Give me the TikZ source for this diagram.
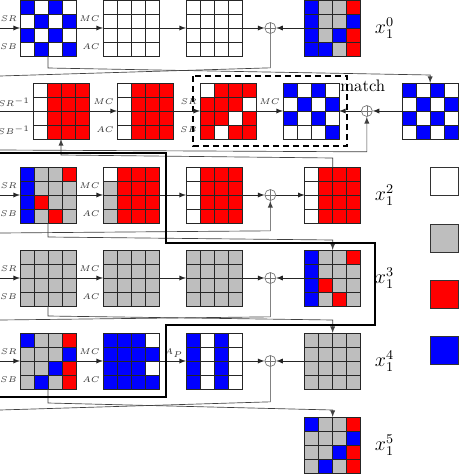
\documentclass[tikz,border=0pt]{standalone}
\usepackage{amsmath}
\usetikzlibrary{arrows,calc,positioning}

\definecolor{cg}{RGB}{190,190,190}
\colorlet{cw}{white}
\colorlet{cr}{red}
\colorlet{cb}{blue}

\tikzset{
  statebox/.style={minimum size=33.6pt, inner sep=0pt, outer sep=0pt},
  cell/.style={draw=black!85, line width=0.45pt},
  xorop/.style={circle, draw=black!55, minimum size=6.6pt, inner sep=0pt,
    path picture={\draw[black!55] (path picture bounding box.north) -- (path picture bounding box.south)
      (path picture bounding box.west) -- (path picture bounding box.east);}},
  flow/.style={->, draw=black!85, line width=0.4pt},
  keyline/.style={draw=black!75, line width=0.4pt},
  chunkline/.style={draw=black, line width=1.2pt},
  matchbox/.style={draw=black, line width=0.9pt, dash pattern=on 3.5pt off 2.5pt},
  lbl/.style={font=\tiny, text=black!80, inner sep=0.5pt},
  xlbl/.style={font=\large},
  legendbox/.style={draw=black!80, line width=0.6pt, minimum size=16.8pt, inner sep=0pt}
}

% 4x4 state: name, placement, 16 cell colours (row by row)
\newcommand{\stategrid}[3]{%
  \node[statebox, #2] (#1) {};
  \foreach \col [count=\i from 0] in {#3} {
    \pgfmathtruncatemacro{\rowi}{\i/4}
    \pgfmathtruncatemacro{\coli}{mod(\i,4)}
    \draw[cell, fill=\col] (#1.north west) ++(\coli*14,\rowi*14) rectangle ++(14,14);
  }
}
% operation names left of a state
\newcommand{\oplbl}[3]{%
  \node[lbl, anchor=east] (#1-up) at ($(#1.north west)+(-2,19)$) {$#2$};
  \node[lbl, anchor=east] (#1-dn) at ($(#1.north west)+(-2,47)$) {$#3$};
}

\begin{document}
\begin{tikzpicture}[x=0.6pt, y=-0.6pt, node distance=16.2pt, >=latex]
\useasboundingbox (0,0) rectangle (474,474);
\coordinate (edge) at (0,0);

% Round 1
\stategrid{A1}{at={(20,0)}, anchor=north west}{cb,cw,cb,cw, cw,cb,cw,cb, cb,cw,cb,cw, cw,cb,cw,cb}
\stategrid{B1}{right=of A1}{cw,cw,cw,cw, cw,cw,cw,cw, cw,cw,cw,cw, cw,cw,cw,cw}
\stategrid{C1}{right=of B1}{cw,cw,cw,cw, cw,cw,cw,cw, cw,cw,cw,cw, cw,cw,cw,cw}
\node[xorop, right=13.5pt of C1] (o1) {};
\stategrid{X0}{right=17.1pt of o1}{cb,cg,cg,cr, cb,cg,cg,cb, cb,cg,cb,cr, cb,cb,cg,cr}
\node[xlbl, right=5pt of X0] (X0-lbl) {$x_1^0$};
\oplbl{A1}{SR}{SB}
\oplbl{B1}{MC}{AC}

% Round 2 (match)
\stategrid{G21}{at={(33,83)}, anchor=north west}{cw,cr,cr,cr, cw,cr,cr,cr, cw,cr,cr,cr, cw,cr,cr,cr}
\stategrid{G22}{right=16.8pt of G21}{cw,cr,cr,cr, cw,cr,cr,cr, cw,cr,cr,cr, cw,cr,cr,cr}
\stategrid{G23}{right=of G22}{cw,cr,cr,cr, cr,cr,cr,cw, cr,cr,cw,cr, cr,cw,cr,cr}
\stategrid{G24}{right=of G23}{cb,cw,cb,cw, cw,cb,cw,cb, cb,cw,cb,cw, cw,cw,cw,cb}
\node[xorop, right=13.2pt of G24] (o2) {};
\stategrid{R2}{right=17.7pt of o2}{cb,cw,cb,cw, cw,cb,cw,cb, cb,cw,cb,cw, cw,cb,cw,cb}
\oplbl{G21}{SR^{-1}}{SB^{-1}}
\oplbl{G22}{MC}{AC}
\oplbl{G23}{SR}{SB}
\node[lbl, anchor=east] (G24-up) at ($(G24.north west)+(-2,19)$) {$MC$};
\draw[matchbox] (193,76) rectangle (347,146);
\node[anchor=west, inner sep=0pt] (match) at (340,86) {match};

% Round 3
\stategrid{A3}{at={(20,167)}, anchor=north west}{cb,cg,cg,cr, cb,cg,cg,cg, cb,cr,cg,cg, cb,cg,cr,cg}
\stategrid{B3}{right=of A3}{cw,cr,cr,cr, cg,cr,cr,cr, cg,cr,cr,cr, cg,cr,cr,cr}
\stategrid{C3}{right=of B3}{cw,cr,cr,cr, cw,cr,cr,cr, cw,cr,cr,cr, cw,cr,cr,cr}
\node[xorop, right=13.5pt of C3] (o3) {};
\stategrid{X2}{right=17.1pt of o3}{cw,cr,cr,cr, cw,cr,cr,cr, cw,cr,cr,cr, cw,cr,cr,cr}
\node[xlbl, right=5pt of X2] (X2-lbl) {$x_1^2$};
\oplbl{A3}{SR}{SB}
\oplbl{B3}{MC}{AC}

% Round 4
\stategrid{A4}{at={(20,250)}, anchor=north west}{cg,cg,cg,cg, cg,cg,cg,cg, cg,cg,cg,cg, cg,cg,cg,cg}
\stategrid{B4}{right=of A4}{cg,cg,cg,cg, cg,cg,cg,cg, cg,cg,cg,cg, cg,cg,cg,cg}
\stategrid{C4}{right=of B4}{cg,cg,cg,cg, cg,cg,cg,cg, cg,cg,cg,cg, cg,cg,cg,cg}
\node[xorop, right=13.5pt of C4] (o4) {};
\stategrid{X3}{right=17.1pt of o4}{cb,cg,cg,cr, cb,cg,cg,cg, cb,cr,cg,cg, cb,cg,cr,cg}
\node[xlbl, right=5pt of X3] (X3-lbl) {$x_1^3$};
\oplbl{A4}{SR}{SB}
\oplbl{B4}{MC}{AC}

% Round 5
\stategrid{A5}{at={(20,333)}, anchor=north west}{cb,cg,cg,cr, cg,cg,cg,cb, cg,cg,cb,cr, cg,cb,cg,cr}
\stategrid{B5}{right=of A5}{cb,cb,cb,cw, cb,cb,cb,cb, cb,cb,cb,cw, cb,cb,cb,cb}
\stategrid{C5}{right=of B5}{cb,cw,cb,cw, cb,cw,cb,cw, cb,cw,cb,cw, cb,cw,cb,cw}
\node[xorop, right=13.5pt of C5] (o5) {};
\stategrid{X4}{right=17.1pt of o5}{cg,cg,cg,cg, cg,cg,cg,cg, cg,cg,cg,cg, cg,cg,cg,cg}
\node[xlbl, right=5pt of X4] (X4-lbl) {$x_1^4$};
\oplbl{A5}{SR}{SB}
\oplbl{B5}{MC}{AC}
\node[lbl, anchor=east] (C5-up) at ($(C5.north west)+(-2,20)$) {$A_P$};

% last key
\stategrid{X5}{below=16.8pt of X4}{cb,cg,cg,cr, cg,cg,cg,cb, cg,cg,cb,cr, cg,cb,cg,cr}
\node[xlbl, right=5pt of X5] (X5-lbl) {$x_1^5$};

% Legend
\node[legendbox, fill=cw, anchor=north west] (leg1) at (430,167) {};
\node[legendbox, fill=cg, below=16.8pt of leg1] (leg2) {};
\node[legendbox, fill=cr, below=of leg2] (leg3) {};
\node[legendbox, fill=cb, below=of leg3] (leg4) {};

% Arrows along the rounds
\draw[flow] (A1.west -| edge) -- (A1);
\draw[flow] (A1) -- (B1);
\draw[flow] (B1) -- (C1);
\draw[flow] (C1) -- (o1);
\draw[flow] (X0) -- (o1);

\draw[flow, -] (G21.west -| edge) -- (G21);
\draw[flow] (G21) -- (G22);
\draw[flow] (G22) -- (G23);
\draw[flow] (G23) -- (G24);
\draw[flow] (o2) -- (G24);
\draw[flow] (R2) -- (o2);

\draw[flow] (A3.west -| edge) -- (A3);
\draw[flow] (A3) -- (B3);
\draw[flow] (B3) -- (C3);
\draw[flow] (C3) -- (o3);
\draw[flow] (o3) -- (X2);

\draw[flow] (A4.west -| edge) -- (A4);
\draw[flow] (A4) -- (B4);
\draw[flow] (B4) -- (C4);
\draw[flow] (C4) -- (o4);
\draw[flow] (X3) -- (o4);

\draw[flow] (A5.west -| edge) -- (A5);
\draw[flow] (A5) -- (B5);
\draw[flow] (B5) -- (C5);
\draw[flow] (C5) -- (o5);
\draw[flow] (X4) -- (o5);

% Key schedule and wrap-around lines
\coordinate (w1) at (0,76);
\coordinate (w2) at (0,150);
\coordinate (w3) at (0,233);
\coordinate (w4) at (0,320);
\coordinate (w5) at (0,410);
\draw[keyline, ->] (A1.south) -- ++(0,12) -- ($(R2.north)+(0,-8)$) -- (R2.north);
\draw[keyline] (o1.south) -- ++(0,34) -- (w1);
\draw[keyline, ->] (X2.north) -- ++(0,-9) -- ($(G21.south)+(0,16)$) -- (G21.south);
\draw[keyline, ->] (w2) -- ($(o2.south)+(0,35)$) -- (o2.south);
\draw[keyline, ->] (A3.south) -- ++(0,14) -- ($(X3.north)+(0,-10)$) -- (X3.north);
\draw[keyline, ->] (w3) -- ($(o3.south)+(0,30)$) -- (o3.south);
\draw[keyline, ->] (A4.south) -- ++(0,10) -- ($(X4.north)+(0,-13)$) -- (X4.north);
\draw[keyline] (o4.south) -- ++(0,33) -- (w4);
\draw[keyline, ->] (A5.south) -- ++(0,14) -- ($(X5.north)+(0,-7)$) -- (X5.north);
\draw[keyline] (o5.south) -- ++(0,35) -- (w5);

% Chunk border
\draw[chunkline] (0,153) -- (166,153) -- (166,243) -- (375,243) -- (375,325)
  -- (166,325) -- (166,397) -- (0,397);

\end{tikzpicture}
\end{document}
